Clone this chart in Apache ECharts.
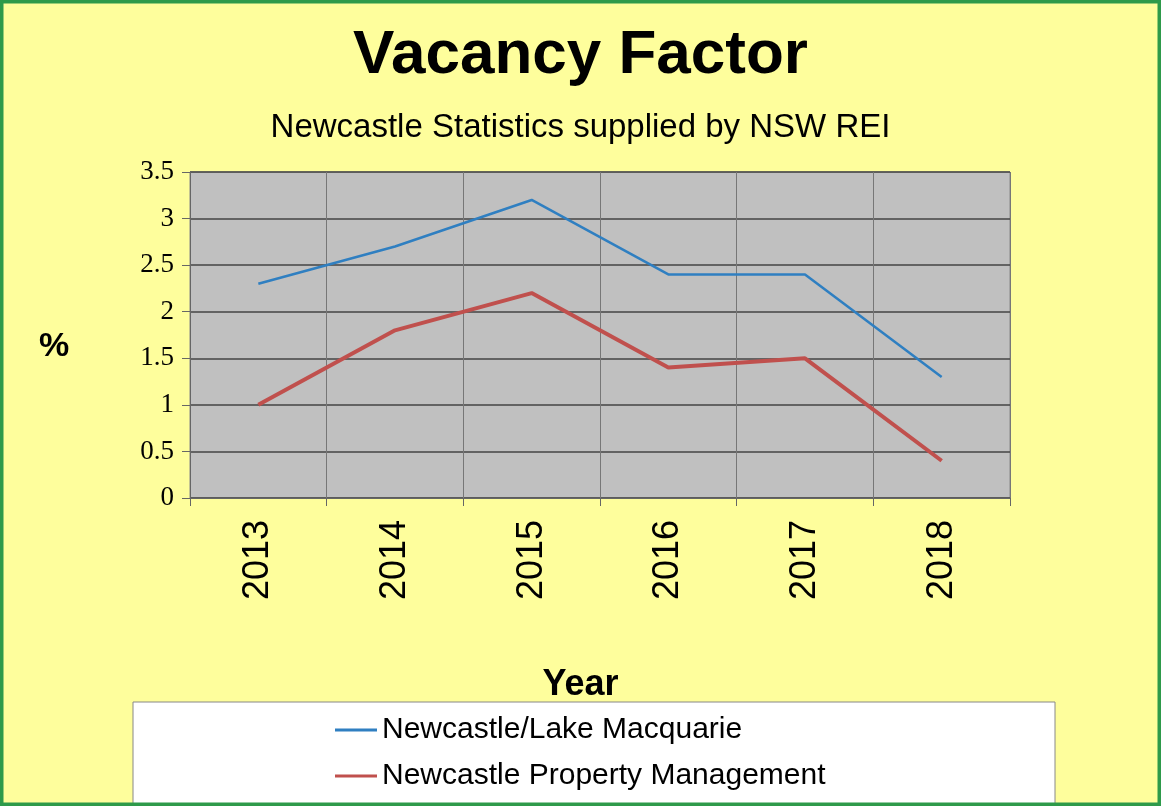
<!DOCTYPE html>
<html><head><meta charset="utf-8">
<script src="https://cdn.jsdelivr.net/npm/echarts@6/dist/echarts.min.js"></script>
<style>html,body{margin:0;padding:0;}#c{width:1161px;height:806px;}</style>
</head><body><div id="c"></div>
<script>
const years = ['2013','2014','2015','2016','2017','2018'];
const lakeMacquarie = [2.3, 2.7, 3.2, 2.4, 2.4, 1.3];
const propertyMgmt = [1.0, 1.8, 2.2, 1.4, 1.5, 0.4];
const chart = echarts.init(document.getElementById('c'));
chart.setOption({
  backgroundColor: '#fefe9c',
  animation: false,
  title: [
    {text: 'Vacancy Factor', left: 'center', top: 20, textStyle: {fontFamily: 'Liberation Sans, Arial', fontSize: 62, fontWeight: 'bold', color: '#000'}},
    {text: 'Newcastle Statistics supplied by NSW REI', left: 'center', top: 106, textStyle: {fontFamily: 'Liberation Sans, Arial', fontSize: 33, fontWeight: 'normal', color: '#000'}},
    {text: '%', left: 34, top: 325, textStyle: {fontFamily: 'Liberation Sans, Arial', fontSize: 34, fontWeight: 'bold', color: '#000'}},
    {text: 'Year', left: 'center', top: 662, textStyle: {fontFamily: 'Liberation Sans, Arial', fontSize: 36, fontWeight: 'bold', color: '#000'}}
  ],
  graphic: [
    {type: 'rect', shape: {x: 1.5, y: 1.5, width: 1158, height: 803}, style: {fill: 'none', stroke: '#2e9a4a', lineWidth: 4}, z: 100},
    {type: 'rect', shape: {x: 133, y: 702, width: 922, height: 110}, style: {fill: '#fff', stroke: '#888', lineWidth: 1}, z: 0}
  ],
  grid: {left: 190, right: 151, top: 172, bottom: 308, show: true, backgroundColor: '#c0c0c0', borderColor: '#888', borderWidth: 1},
  legend: {
    orient: 'vertical', left: 330, top: 710, itemGap: 16, itemWidth: 42, itemHeight: 3, icon: 'rect',
    textStyle: {fontFamily: 'Liberation Sans, Arial', fontSize: 30, color: '#000'},
    data: ['Newcastle/Lake Macquarie', 'Newcastle Property Management']
  },
  xAxis: {
    type: 'category', data: years, boundaryGap: true,
    axisLine: {lineStyle: {color: '#666'}},
    axisTick: {show: true, length: 8, lineStyle: {color: '#666'}},
    splitLine: {show: true, lineStyle: {color: '#777', width: 1}},
    axisLabel: {rotate: 90, fontFamily: 'Liberation Sans, Arial', fontSize: 36, color: '#000', margin: 22}
  },
  yAxis: {
    type: 'value', min: 0, max: 3.5, interval: 0.5,
    axisLine: {show: true, lineStyle: {color: '#666'}},
    axisTick: {show: true, length: 8, lineStyle: {color: '#666'}},
    splitLine: {lineStyle: {color: '#444', width: 1.5}},
    axisLabel: {fontFamily: 'Liberation Serif, Times New Roman', fontSize: 27, color: '#000', margin: 16}
  },
  series: [
    {name: 'Newcastle/Lake Macquarie', type: 'line', data: lakeMacquarie, showSymbol: false, lineStyle: {color: '#2f7fc1', width: 2.5}, itemStyle: {color: '#2f7fc1'}},
    {name: 'Newcastle Property Management', type: 'line', data: propertyMgmt, showSymbol: false, lineStyle: {color: '#c0504d', width: 4}, itemStyle: {color: '#c0504d'}}
  ]
});
</script></body></html>
